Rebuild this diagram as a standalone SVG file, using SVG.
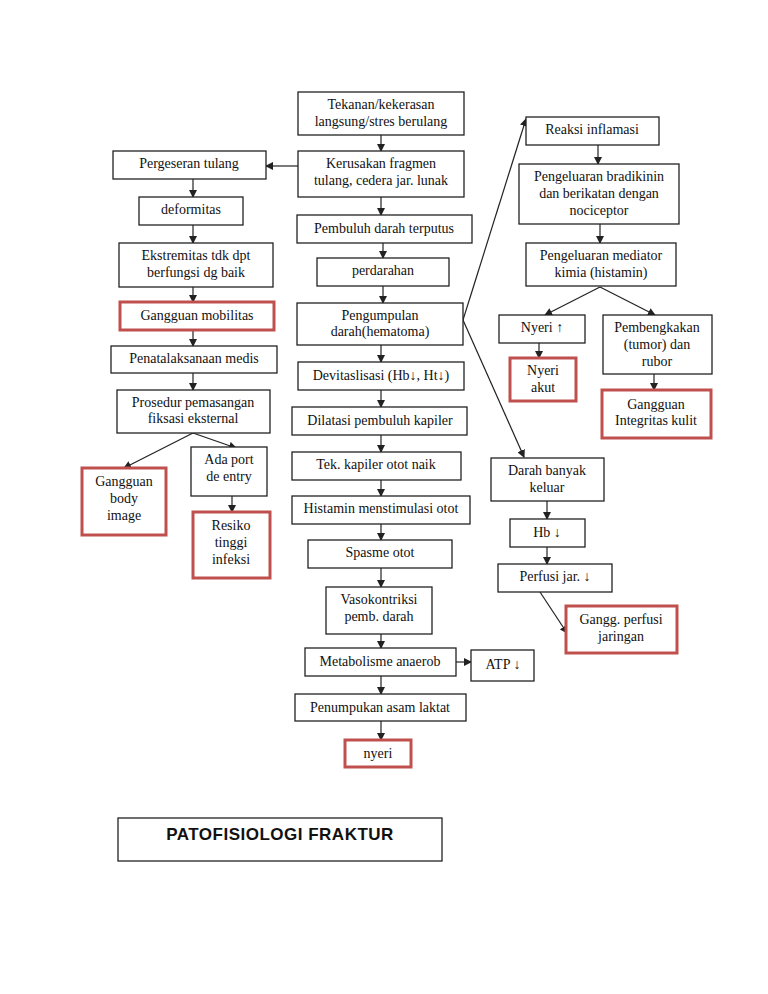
<svg xmlns="http://www.w3.org/2000/svg" width="768" height="994" viewBox="0 0 768 994">
<style>
rect{fill:#fff;stroke:#222;stroke-width:1.3}
.r{stroke:#c0504d;stroke-width:3}
text{font-family:"Liberation Serif",serif;font-size:14px;fill:#111;text-anchor:middle}
.t{font-family:"Liberation Sans",Arial,sans-serif;font-weight:bold;font-size:17px;letter-spacing:0.5px}
#c line{stroke:#222;stroke-width:1.2;marker-end:url(#a)}
</style>
<defs><marker id="a" markerWidth="8" markerHeight="8" refX="7" refY="4" orient="auto" markerUnits="userSpaceOnUse"><path d="M0,0L8,4L0,8z" fill="#222"/></marker></defs>
<rect x="0" y="0" width="768" height="994" style="stroke:none"/>
<g id="c">
<line x1="381" y1="135" x2="381" y2="151"/>
<line x1="298" y1="166" x2="266" y2="166"/>
<line x1="381" y1="197" x2="381" y2="215"/>
<line x1="383" y1="243" x2="383" y2="258"/>
<line x1="383" y1="286" x2="383" y2="303"/>
<line x1="381" y1="345" x2="381" y2="362"/>
<line x1="381" y1="390" x2="381" y2="407"/>
<line x1="381" y1="435" x2="381" y2="452"/>
<line x1="381" y1="480" x2="381" y2="496"/>
<line x1="381" y1="524" x2="381" y2="540"/>
<line x1="381" y1="568" x2="381" y2="587"/>
<line x1="381" y1="634" x2="381" y2="648"/>
<line x1="456" y1="662" x2="471" y2="662"/>
<line x1="381" y1="676" x2="381" y2="694"/>
<line x1="381" y1="721" x2="381" y2="740"/>
<line x1="193" y1="179" x2="193" y2="197"/>
<line x1="193" y1="225" x2="193" y2="243"/>
<line x1="193" y1="287" x2="193" y2="302"/>
<line x1="193" y1="330" x2="193" y2="346"/>
<line x1="193" y1="373" x2="193" y2="390"/>
<line x1="193" y1="433" x2="124" y2="468"/>
<line x1="193" y1="433" x2="236" y2="448"/>
<line x1="232" y1="496" x2="232" y2="512"/>
<line x1="463" y1="320" x2="526" y2="119"/>
<line x1="463" y1="320" x2="524" y2="457"/>
<line x1="598" y1="145" x2="598" y2="164"/>
<line x1="600" y1="224" x2="600" y2="243"/>
<line x1="600" y1="287" x2="545" y2="315"/>
<line x1="600" y1="287" x2="655" y2="315"/>
<line x1="539" y1="343" x2="539" y2="358"/>
<line x1="654" y1="374" x2="654" y2="390"/>
<line x1="547" y1="501" x2="547" y2="519"/>
<line x1="547" y1="547" x2="547" y2="564"/>
<line x1="540" y1="592" x2="567" y2="633"/>
</g>
<g id="n1"><rect x="298" y="92" width="166" height="43"/><text x="381" y="109">Tekanan/kekerasan</text><text x="381" y="126">langsung/stres berulang</text></g>
<g id="n2"><rect x="298" y="151" width="166" height="46"/><text x="381" y="168">Kerusakan fragmen</text><text x="381" y="185">tulang, cedera jar. lunak</text></g>
<g id="n3"><rect x="297" y="215" width="175" height="28"/><text x="384" y="233">Pembuluh darah terputus</text></g>
<g id="n4"><rect x="317" y="258" width="132" height="28"/><text x="383" y="275">perdarahan</text></g>
<g id="n5"><rect x="297" y="303" width="166" height="42"/><text x="380" y="320">Pengumpulan</text><text x="380" y="336">darah(hematoma)</text></g>
<g id="n6"><rect x="298" y="362" width="166" height="28"/><text x="381" y="380">Devitaslisasi (Hb↓, Ht↓)</text></g>
<g id="n7"><rect x="292" y="407" width="175" height="28"/><text x="380" y="425">Dilatasi pembuluh kapiler</text></g>
<g id="n8"><rect x="292" y="452" width="169" height="28"/><text x="376" y="469">Tek. kapiler otot naik</text></g>
<g id="n9"><rect x="292" y="496" width="178" height="28"/><text x="381" y="513">Histamin menstimulasi otot</text></g>
<g id="n10"><rect x="308" y="540" width="144" height="28"/><text x="380" y="557">Spasme otot</text></g>
<g id="n11"><rect x="326" y="587" width="106" height="47"/><text x="379" y="604">Vasokontriksi</text><text x="379" y="621">pemb. darah</text></g>
<g id="n12"><rect x="305" y="648" width="151" height="28"/><text x="380" y="666">Metabolisme anaerob</text></g>
<g id="n13"><rect x="471" y="650" width="63" height="31"/><text x="503" y="669">ATP ↓</text></g>
<g id="n14"><rect x="295" y="694" width="171" height="27"/><text x="380" y="712">Penumpukan asam laktat</text></g>
<g id="n15"><rect class="r" x="345" y="740" width="66" height="27"/><text x="378" y="758">nyeri</text></g>
<g id="l1"><rect x="113" y="151" width="153" height="28"/><text x="189" y="168">Pergeseran tulang</text></g>
<g id="l2"><rect x="139" y="197" width="104" height="28"/><text x="191" y="214">deformitas</text></g>
<g id="l3"><rect x="119" y="243" width="154" height="44"/><text x="196" y="260">Ekstremitas tdk dpt</text><text x="196" y="277">berfungsi dg baik</text></g>
<g id="l4"><rect class="r" x="120" y="302" width="154" height="28"/><text x="197" y="320">Gangguan mobilitas</text></g>
<g id="l5"><rect x="111" y="346" width="166" height="27"/><text x="194" y="363">Penatalaksanaan medis</text></g>
<g id="l6"><rect x="117" y="390" width="153" height="43"/><text x="193" y="407">Prosedur pemasangan</text><text x="193" y="423">fiksasi eksternal</text></g>
<g id="l7"><rect class="r" x="82" y="468" width="84" height="67"/><text x="124" y="486">Gangguan</text><text x="124" y="503">body</text><text x="124" y="520">image</text></g>
<g id="l8"><rect x="191" y="447" width="76" height="49"/><text x="229" y="464">Ada port</text><text x="229" y="481">de entry</text></g>
<g id="l9"><rect class="r" x="193" y="512" width="77" height="66"/><text x="231" y="530">Resiko</text><text x="231" y="547">tinggi</text><text x="231" y="564">infeksi</text></g>
<g id="r1"><rect x="526" y="117" width="133" height="28"/><text x="592" y="134">Reaksi inflamasi</text></g>
<g id="r2"><rect x="519" y="164" width="160" height="60"/><text x="599" y="181">Pengeluaran bradikinin</text><text x="599" y="198">dan berikatan dengan</text><text x="599" y="215">nociceptor</text></g>
<g id="r3"><rect x="526" y="243" width="150" height="43"/><text x="601" y="260">Pengeluaran mediator</text><text x="601" y="277">kimia (histamin)</text></g>
<g id="r4"><rect x="499" y="315" width="86" height="28"/><text x="542" y="332">Nyeri ↑</text></g>
<g id="r5"><rect x="603" y="315" width="109" height="59"/><text x="657" y="332">Pembengkakan</text><text x="657" y="349">(tumor) dan</text><text x="657" y="366">rubor</text></g>
<g id="r6"><rect class="r" x="510" y="358" width="66" height="43"/><text x="543" y="375">Nyeri</text><text x="543" y="392">akut</text></g>
<g id="r7"><rect class="r" x="602" y="390" width="109" height="48"/><text x="656" y="409">Gangguan</text><text x="656" y="425">Integritas kulit</text></g>
<g id="r8"><rect x="491" y="458" width="113" height="43"/><text x="547" y="475">Darah banyak</text><text x="547" y="492">keluar</text></g>
<g id="r9"><rect x="510" y="519" width="75" height="28"/><text x="547" y="537">Hb ↓</text></g>
<g id="r10"><rect x="498" y="564" width="114" height="28"/><text x="555" y="581">Perfusi jar. ↓</text></g>
<g id="r11"><rect class="r" x="566" y="606" width="111" height="47"/><text x="621" y="624">Gangg. perfusi</text><text x="621" y="641">jaringan</text></g>
<g id="title"><rect x="118" y="818" width="324" height="43"/><text class="t" x="280" y="840">PATOFISIOLOGI FRAKTUR</text></g>
</svg>
